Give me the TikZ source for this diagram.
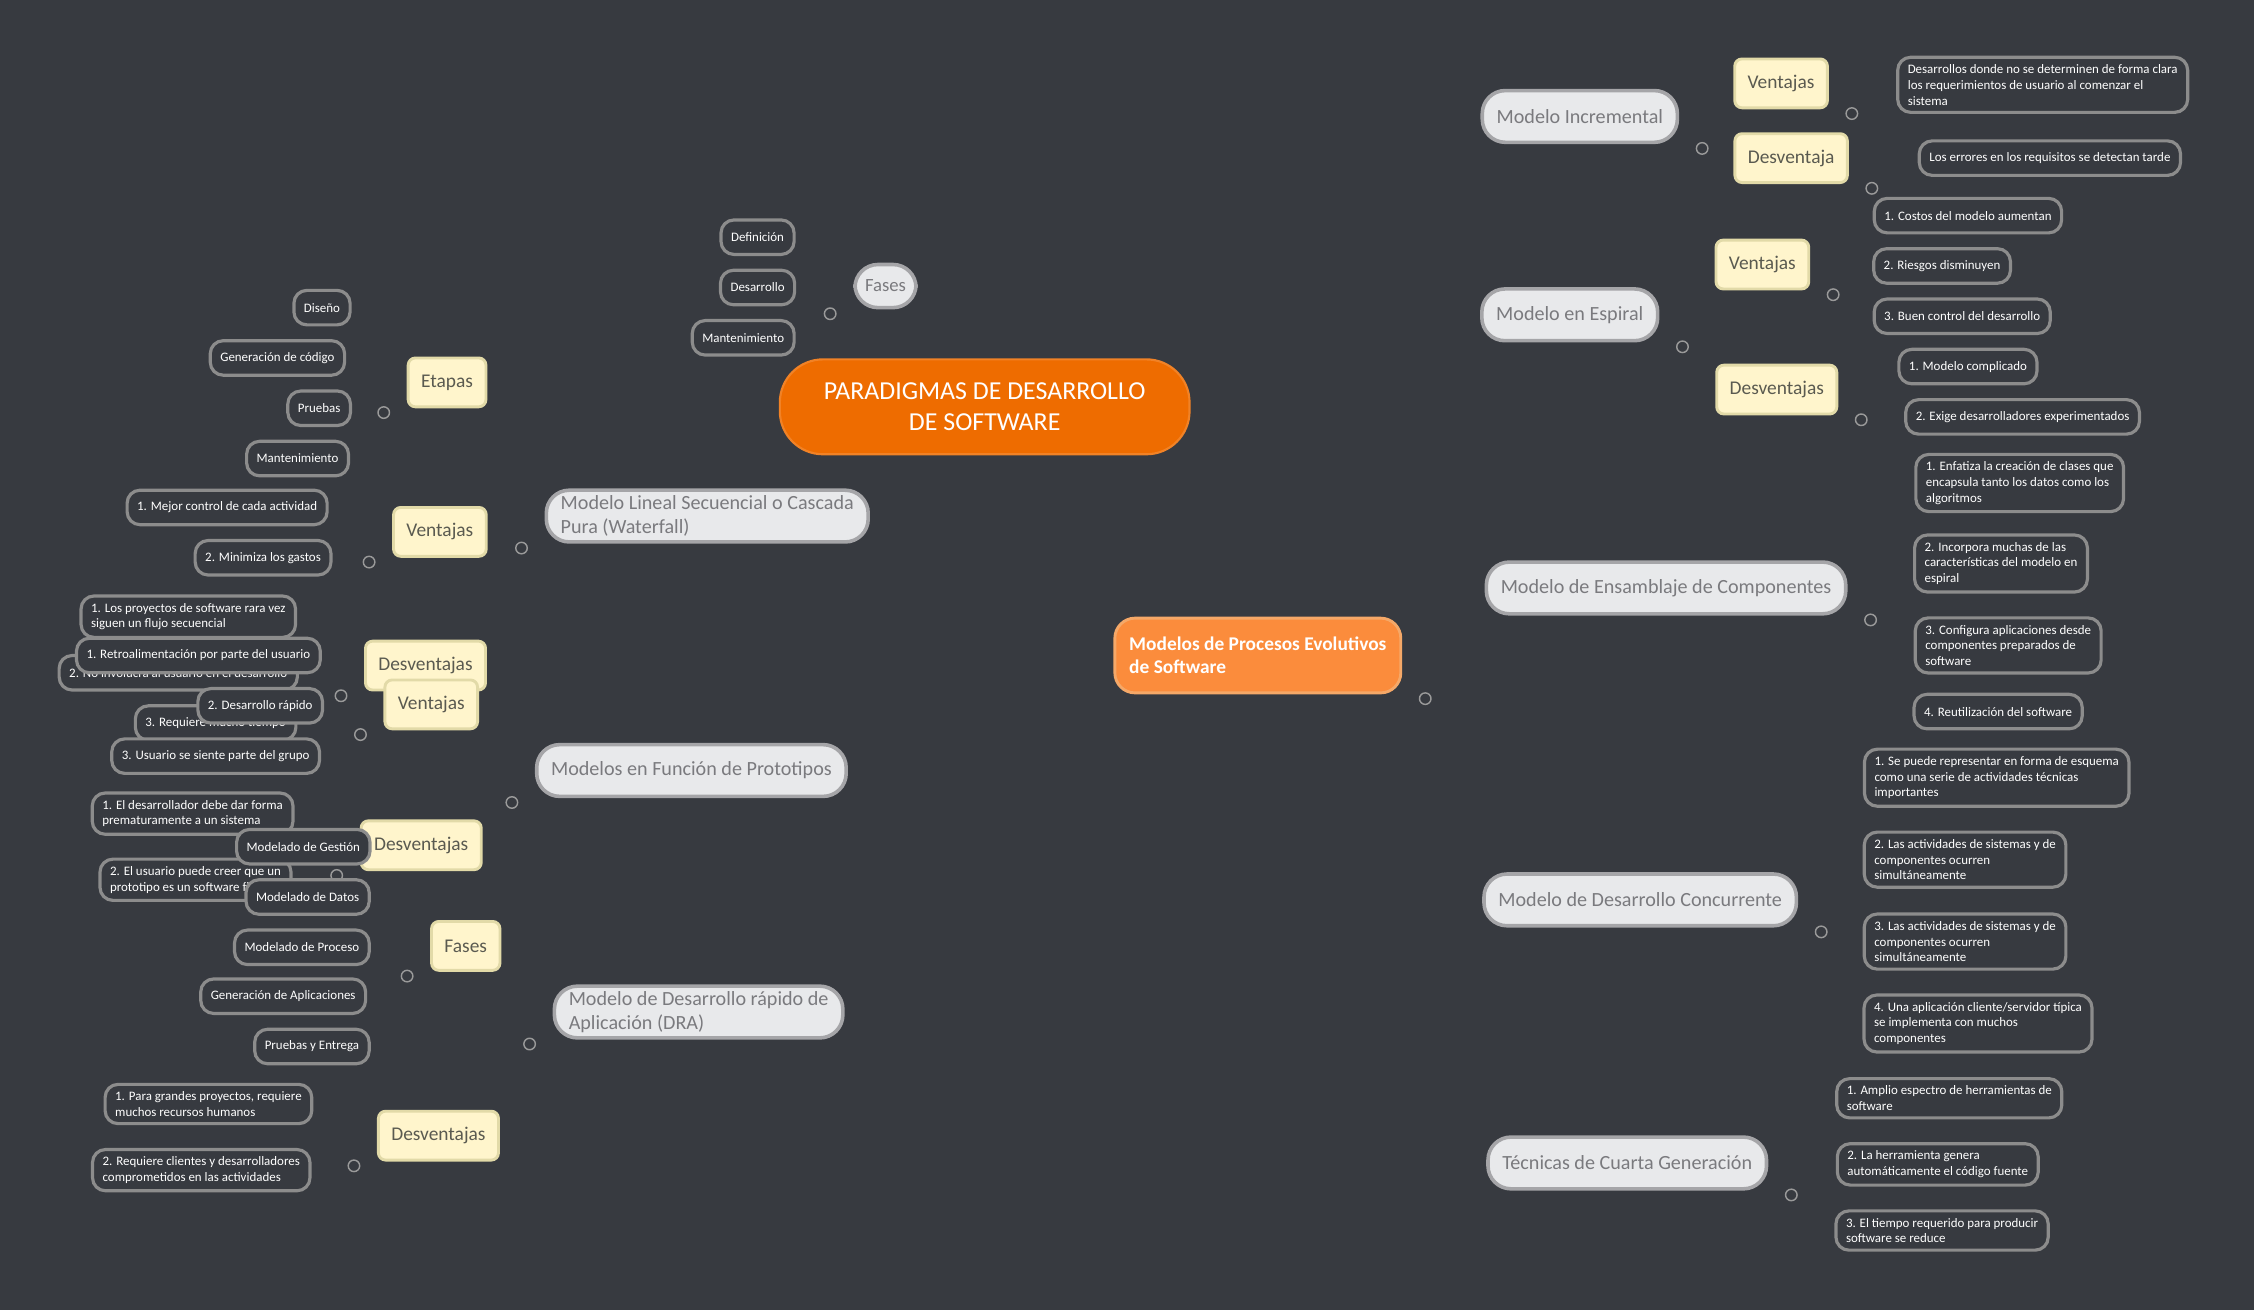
\documentclass[tikz,border=0pt]{standalone}
\usepackage{fontspec}
\setmainfont{Carlito}
\usetikzlibrary{calc}
\definecolor{bg}{HTML}{373A40}
\definecolor{lc}{HTML}{9A9A9A}
\definecolor{gc}{HTML}{8C8C8C}
\definecolor{yf}{HTML}{FFF5CC}
\definecolor{yb}{HTML}{E2DAA8}
\definecolor{yt}{HTML}{5A5A50}
\definecolor{gf}{HTML}{E8E9EB}
\definecolor{gb}{HTML}{A5A5A8}
\definecolor{gt}{HTML}{7A7A7E}
\definecolor{rootc}{HTML}{EE6C00}
\definecolor{subo}{HTML}{FB8C3C}
\definecolor{subb}{HTML}{F5A868}
\pgfdeclarelayer{back}
\pgfsetlayers{back,main}
\tikzset{
 small/.style={draw=gc,line width=2.2pt,fill=bg,text=white,rounded corners=9,font=\fontsize{9}{11}\selectfont,inner xsep=7,inner ysep=5,minimum height=24,align=left},
 yel/.style={draw=yb,line width=2pt,fill=yf,text=yt,rounded corners=5,font=\fontsize{13.5}{15}\selectfont,minimum height=34,inner xsep=9},
 gry/.style={draw=gb,line width=2.5pt,fill=gf,text=gt,rounded corners=16,font=\fontsize{14}{17}\selectfont,minimum height=36,inner xsep=10,align=left},
 jn/.style={circle,draw=lc,fill=bg,line width=1pt,minimum size=8,inner sep=0},
 conn/.style={draw=lc,line width=1.1pt},
}
\newcommand\cR[2]{\begin{pgfonlayer}{back}\draw[conn,rounded corners=9] (#1.center) -- ++(7,0) |- ([yshift=-3pt]#2.south west) -- ([yshift=-3pt]#2.south east);\end{pgfonlayer}}
\newcommand\cL[2]{\begin{pgfonlayer}{back}\draw[conn,rounded corners=9] (#1.center) -- ++(-7,0) |- ([yshift=-3pt]#2.south east) -- ([yshift=-3pt]#2.south west);\end{pgfonlayer}}
\newcommand\jR[2]{\node[jn] (#1) at ([xshift=16pt,yshift=-3pt]#2.south east) {};\begin{pgfonlayer}{back}\draw[conn] ([yshift=-3pt]#2.south east) -- (#1);\end{pgfonlayer}}
\newcommand\jL[2]{\node[jn] (#1) at ([xshift=-16pt,yshift=-3pt]#2.south west) {};\begin{pgfonlayer}{back}\draw[conn] ([yshift=-3pt]#2.south west) -- (#1);\end{pgfonlayer}}
\begin{document}
\begin{tikzpicture}[x=1pt,y=-1pt]
\fill[bg] (0,0) rectangle (1568,911);
\useasboundingbox (0,0) rectangle (1568,911);
% root
\node[fill=rootc,draw=rootc!85!white,line width=1.5pt,rounded corners=30,text=white,font=\fontsize{18}{22}\selectfont,align=center,minimum width=285,minimum height=66] (root) at (685,283) {PARADIGMAS DE DESARROLLO\\DE SOFTWARE};
% Fases top
\node[gry,font=\fontsize{13}{15}\selectfont,minimum height=30,inner xsep=7] (fa) at (616,199) {Fases};
\jL{jfa}{fa}
\node[small] (f1) at (527,165) {Definición};
\node[small] (f2) at (527,200) {Desarrollo};
\node[small] (f3) at (517,235) {Mantenimiento};
\cL{jfa}{f1}\cL{jfa}{f2}\cL{jfa}{f3}
\begin{pgfonlayer}{back}\draw[conn] ([xshift=-73pt]root.north) .. controls (600,240) .. ([yshift=-3pt]fa.south west);\end{pgfonlayer}
% Waterfall
\node[gry] (wf) at (492,359) {Modelo Lineal Secuencial o Cascada\\Pura (Waterfall)};
\jL{jwf}{wf}
\node[yel] (et) at (311,266) {Etapas};
\node[yel] (wv) at (306,370) {Ventajas};
\node[yel] (wd) at (296,463) {Desventajas};
\cL{jwf}{et}\cL{jwf}{wv}\cL{jwf}{wd}
\jL{jet}{et}
\node[small] (e1) at (224,214) {Diseño};
\node[small] (e2) at (193,249) {Generación de código};
\node[small] (e3) at (222,284) {Pruebas};
\node[small] (e4) at (207,319) {Mantenimiento};
\cL{jet}{e1}\cL{jet}{e2}\cL{jet}{e3}\cL{jet}{e4}
\jL{jwv}{wv}
\node[small] (wv1) at (158,353) {1. Mejor control de cada actividad};
\node[small] (wv2) at (183,388) {2. Minimiza los gastos};
\cL{jwv}{wv1}\cL{jwv}{wv2}
\jL{jwd}{wd}
\node[small] (wd1) at (131,429) {1. Los proyectos de software rara vez\\siguen un flujo secuencial};
\node[small] (wd2) at (124,468) {2. No involucra al usuario en el desarrollo};
\node[small] (wd3) at (150,503) {3. Requiere mucho tiempo};
\cL{jwd}{wd1}\cL{jwd}{wd2}\cL{jwd}{wd3}
% Prototipos
\node[gry] (pr) at (481,536) {Modelos en Función de Prototipos};
\jL{jpr}{pr}
\node[yel] (pv) at (300,490) {Ventajas};
\node[yel] (pd) at (293,588) {Desventajas};
\cL{jpr}{pv}\cL{jpr}{pd}
\jL{jpv}{pv}
\node[small] (pv1) at (138,456) {1. Retroalimentación por parte del usuario};
\node[small] (pv2) at (181,491) {2. Desarrollo rápido};
\node[small] (pv3) at (150,526) {3. Usuario se siente parte del grupo};
\cL{jpv}{pv1}\cL{jpv}{pv2}\cL{jpv}{pv3}
\jL{jpd}{pd}
\node[small] (pd1) at (134,566) {1. El desarrollador debe dar forma\\prematuramente a un sistema};
\node[small] (pd2) at (136,612) {2. El usuario puede creer que un\\prototipo es un software final};
\cL{jpd}{pd1}\cL{jpd}{pd2}
% DRA
\node[gry] (dra) at (486,704) {Modelo de Desarrollo rápido de\\Aplicación (DRA)};
\jL{jdra}{dra}
\node[yel] (df) at (324,658) {Fases};
\node[yel] (dd) at (305,790) {Desventajas};
\cL{jdra}{df}\cL{jdra}{dd}
\jL{jdf}{df}
\node[small] (df1) at (211,589) {Modelado de Gestión};
\node[small] (df2) at (214,624) {Modelado de Datos};
\node[small] (df3) at (210,659) {Modelado de Proceso};
\node[small] (df4) at (197,693) {Generación de Aplicaciones};
\node[small] (df5) at (217,728) {Pruebas y Entrega};
\cL{jdf}{df1}\cL{jdf}{df2}\cL{jdf}{df3}\cL{jdf}{df4}\cL{jdf}{df5}
\jL{jdd}{dd}
\node[small] (dd1) at (145,768) {1. Para grandes proyectos, requiere\\muchos recursos humanos};
\node[small] (dd2) at (140,814) {2. Requiere clientes y desarrolladores\\comprometidos en las actividades};
\cL{jdd}{dd1}\cL{jdd}{dd2}
\begin{pgfonlayer}{back}
\draw[conn] ([xshift=-8pt]root.south) .. controls (668,360) and (640,386) .. ([yshift=-3pt]wf.south east);
\draw[conn] ([xshift=-4pt]root.south) .. controls (670,430) and (650,554) .. ([yshift=-3pt]pr.south east);
\draw[conn] ([xshift=-1pt]root.south) .. controls (680,520) and (660,732) .. ([yshift=-3pt]dra.south east);
\end{pgfonlayer}
% Right
\node[fill=subo,draw=subb,line width=2pt,rounded corners=14,text=white,font=\bfseries\fontsize{13.5}{16}\selectfont,align=left,minimum height=52,inner xsep=10] (ev) at (875,456) {Modelos de Procesos Evolutivos\\de Software};
\jR{jev}{ev}
\begin{pgfonlayer}{back}\draw[conn] ([xshift=5pt]root.south) .. controls (700,420) and (730,487) .. ([yshift=-3pt]ev.south west);\end{pgfonlayer}
\node[gry] (mi) at (1099,81) {Modelo Incremental};
\node[gry] (me) at (1092,219) {Modelo en Espiral};
\node[gry] (mc) at (1159,409) {Modelo de Ensamblaje de Componentes};
\node[gry] (mdc) at (1141,626) {Modelo de Desarrollo Concurrente};
\node[gry] (mt) at (1132,809) {Técnicas de Cuarta Generación};
\cR{jev}{mi}\cR{jev}{me}\cR{jev}{mc}\cR{jev}{mdc}\cR{jev}{mt}
% Incremental
\jR{jmi}{mi}
\node[yel] (iv) at (1239,58) {Ventajas};
\node[yel] (id) at (1246,110) {Desventaja};
\cR{jmi}{iv}\cR{jmi}{id}
\jR{jiv}{iv}\jR{jid}{id}
\node[small] (iv1) at (1421,59) {Desarrollos donde no se determinen de forma clara\\los requerimientos de usuario al comenzar el\\sistema};
\node[small] (id1) at (1426,110) {Los errores en los requisitos se detectan tarde};
\cR{jiv}{iv1}\cR{jid}{id1}
% Espiral
\jR{jme}{me}
\node[yel] (sv) at (1226,184) {Ventajas};
\node[yel] (sd) at (1236,271) {Desventajas};
\cR{jme}{sv}\cR{jme}{sd}
\jR{jsv}{sv}\jR{jsd}{sd}
\node[small] (sv1) at (1369,150) {1. Costos del modelo aumentan};
\node[small] (sv2) at (1351,185) {2. Riesgos disminuyen};
\node[small] (sv3) at (1365,220) {3. Buen control del desarrollo};
\cR{jsv}{sv1}\cR{jsv}{sv2}\cR{jsv}{sv3}
\node[small] (sd1) at (1369,255) {1. Modelo complicado};
\node[small] (sd2) at (1407,290) {2. Exige desarrolladores experimentados};
\cR{jsd}{sd1}\cR{jsd}{sd2}
% Ensamblaje
\jR{jmc}{mc}
\node[small] (c1) at (1405,336) {1. Enfatiza la creación de clases que\\encapsula tanto los datos como los\\algoritmos};
\node[small] (c2) at (1392,392) {2. Incorpora muchas de las\\características del modelo en\\espiral};
\node[small] (c3) at (1397,449) {3. Configura aplicaciones desde\\componentes preparados de\\software};
\node[small] (c4) at (1390,495) {4. Reutilización del software};
\cR{jmc}{c1}\cR{jmc}{c2}\cR{jmc}{c3}\cR{jmc}{c4}
% Concurrente
\jR{jmdc}{mdc}
\node[small] (k1) at (1389,541) {1. Se puede representar en forma de esquema\\como una serie de actividades técnicas\\importantes};
\node[small] (k2) at (1367,598) {2. Las actividades de sistemas y de\\componentes ocurren\\simultáneamente};
\node[small] (k3) at (1367,655) {3. Las actividades de sistemas y de\\componentes ocurren\\simultáneamente};
\node[small] (k4) at (1376,712) {4. Una aplicación cliente/servidor típica\\se implementa con muchos\\componentes};
\cR{jmdc}{k1}\cR{jmdc}{k2}\cR{jmdc}{k3}\cR{jmdc}{k4}
% Cuarta
\jR{jmt}{mt}
\node[small] (t1) at (1356,764) {1. Amplio espectro de herramientas de\\software};
\node[small] (t2) at (1348,810) {2. La herramienta genera\\automáticamente el código fuente};
\node[small] (t3) at (1351,856) {3. El tiempo requerido para producir\\software se reduce};
\cR{jmt}{t1}\cR{jmt}{t2}\cR{jmt}{t3}
\end{tikzpicture}
\end{document}
